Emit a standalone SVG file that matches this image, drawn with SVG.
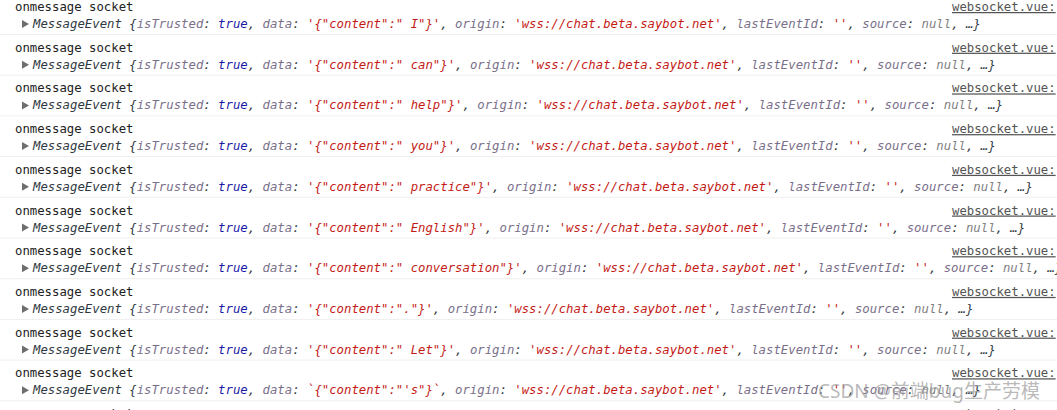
<svg xmlns="http://www.w3.org/2000/svg" width="1057" height="410" viewBox="0 0 1057 410">
<style>
text{font-family:"DejaVu Sans Mono","Liberation Mono",monospace;font-size:12.3px;fill:#222}
.d{font-style:italic;fill:#303942}
.k{fill:#7a6f8a}.b{fill:#1a1aa6}.s{fill:#c41a16}.n{fill:#808080}
.l{fill:#545454;text-decoration:underline}
.sep{stroke:#efefef;stroke-width:1}
.tri{fill:#6e6e6e}
</style>
<rect width="1057" height="410" fill="#fff"/>
<defs><path id="t" class="tri" d="M0,-4 L7,0 L0,4Z"/></defs>
<g id="rows">
<g id="r0"><text x="15" y="11">onmessage socket</text><text class="l" x="952" y="11">websocket.vue:</text><use href="#t" x="22" y="24"/><text class="d" x="33" y="28">MessageEvent {<tspan class="k">isTrusted</tspan>: <tspan class="b">true</tspan>, <tspan class="k">data</tspan>: <tspan class="s">'{"content":" I"}'</tspan>, <tspan class="k">origin</tspan>: <tspan class="s">'wss://chat.beta.saybot.net'</tspan>, <tspan class="k">lastEventId</tspan>: <tspan class="s">''</tspan>, <tspan class="k">source</tspan>: <tspan class="n">null</tspan>, …}</text><line class="sep" x1="0" y1="34.5" x2="1057" y2="34.5"/></g>
<g id="r1" transform="translate(0,40.7)"><text x="15" y="11">onmessage socket</text><text class="l" x="952" y="11">websocket.vue:</text><use href="#t" x="22" y="24"/><text class="d" x="33" y="28">MessageEvent {<tspan class="k">isTrusted</tspan>: <tspan class="b">true</tspan>, <tspan class="k">data</tspan>: <tspan class="s">'{"content":" can"}'</tspan>, <tspan class="k">origin</tspan>: <tspan class="s">'wss://chat.beta.saybot.net'</tspan>, <tspan class="k">lastEventId</tspan>: <tspan class="s">''</tspan>, <tspan class="k">source</tspan>: <tspan class="n">null</tspan>, …}</text><line class="sep" x1="0" y1="34.5" x2="1057" y2="34.5"/></g>
<g id="r2" transform="translate(0,81.4)"><text x="15" y="11">onmessage socket</text><text class="l" x="952" y="11">websocket.vue:</text><use href="#t" x="22" y="24"/><text class="d" x="33" y="28">MessageEvent {<tspan class="k">isTrusted</tspan>: <tspan class="b">true</tspan>, <tspan class="k">data</tspan>: <tspan class="s">'{"content":" help"}'</tspan>, <tspan class="k">origin</tspan>: <tspan class="s">'wss://chat.beta.saybot.net'</tspan>, <tspan class="k">lastEventId</tspan>: <tspan class="s">''</tspan>, <tspan class="k">source</tspan>: <tspan class="n">null</tspan>, …}</text><line class="sep" x1="0" y1="34.5" x2="1057" y2="34.5"/></g>
<g id="r3" transform="translate(0,122.1)"><text x="15" y="11">onmessage socket</text><text class="l" x="952" y="11">websocket.vue:</text><use href="#t" x="22" y="24"/><text class="d" x="33" y="28">MessageEvent {<tspan class="k">isTrusted</tspan>: <tspan class="b">true</tspan>, <tspan class="k">data</tspan>: <tspan class="s">'{"content":" you"}'</tspan>, <tspan class="k">origin</tspan>: <tspan class="s">'wss://chat.beta.saybot.net'</tspan>, <tspan class="k">lastEventId</tspan>: <tspan class="s">''</tspan>, <tspan class="k">source</tspan>: <tspan class="n">null</tspan>, …}</text><line class="sep" x1="0" y1="34.5" x2="1057" y2="34.5"/></g>
<g id="r4" transform="translate(0,162.8)"><text x="15" y="11">onmessage socket</text><text class="l" x="952" y="11">websocket.vue:</text><use href="#t" x="22" y="24"/><text class="d" x="33" y="28">MessageEvent {<tspan class="k">isTrusted</tspan>: <tspan class="b">true</tspan>, <tspan class="k">data</tspan>: <tspan class="s">'{"content":" practice"}'</tspan>, <tspan class="k">origin</tspan>: <tspan class="s">'wss://chat.beta.saybot.net'</tspan>, <tspan class="k">lastEventId</tspan>: <tspan class="s">''</tspan>, <tspan class="k">source</tspan>: <tspan class="n">null</tspan>, …}</text><line class="sep" x1="0" y1="34.5" x2="1057" y2="34.5"/></g>
<g id="r5" transform="translate(0,203.5)"><text x="15" y="11">onmessage socket</text><text class="l" x="952" y="11">websocket.vue:</text><use href="#t" x="22" y="24"/><text class="d" x="33" y="28">MessageEvent {<tspan class="k">isTrusted</tspan>: <tspan class="b">true</tspan>, <tspan class="k">data</tspan>: <tspan class="s">'{"content":" English"}'</tspan>, <tspan class="k">origin</tspan>: <tspan class="s">'wss://chat.beta.saybot.net'</tspan>, <tspan class="k">lastEventId</tspan>: <tspan class="s">''</tspan>, <tspan class="k">source</tspan>: <tspan class="n">null</tspan>, …}</text><line class="sep" x1="0" y1="34.5" x2="1057" y2="34.5"/></g>
<g id="r6" transform="translate(0,244.2)"><text x="15" y="11">onmessage socket</text><text class="l" x="952" y="11">websocket.vue:</text><use href="#t" x="22" y="24"/><text class="d" x="33" y="28">MessageEvent {<tspan class="k">isTrusted</tspan>: <tspan class="b">true</tspan>, <tspan class="k">data</tspan>: <tspan class="s">'{"content":" conversation"}'</tspan>, <tspan class="k">origin</tspan>: <tspan class="s">'wss://chat.beta.saybot.net'</tspan>, <tspan class="k">lastEventId</tspan>: <tspan class="s">''</tspan>, <tspan class="k">source</tspan>: <tspan class="n">null</tspan>, …}</text><line class="sep" x1="0" y1="34.5" x2="1057" y2="34.5"/></g>
<g id="r7" transform="translate(0,284.9)"><text x="15" y="11">onmessage socket</text><text class="l" x="952" y="11">websocket.vue:</text><use href="#t" x="22" y="24"/><text class="d" x="33" y="28">MessageEvent {<tspan class="k">isTrusted</tspan>: <tspan class="b">true</tspan>, <tspan class="k">data</tspan>: <tspan class="s">'{"content":"."}'</tspan>, <tspan class="k">origin</tspan>: <tspan class="s">'wss://chat.beta.saybot.net'</tspan>, <tspan class="k">lastEventId</tspan>: <tspan class="s">''</tspan>, <tspan class="k">source</tspan>: <tspan class="n">null</tspan>, …}</text><line class="sep" x1="0" y1="34.5" x2="1057" y2="34.5"/></g>
<g id="r8" transform="translate(0,325.6)"><text x="15" y="11">onmessage socket</text><text class="l" x="952" y="11">websocket.vue:</text><use href="#t" x="22" y="24"/><text class="d" x="33" y="28">MessageEvent {<tspan class="k">isTrusted</tspan>: <tspan class="b">true</tspan>, <tspan class="k">data</tspan>: <tspan class="s">'{"content":" Let"}'</tspan>, <tspan class="k">origin</tspan>: <tspan class="s">'wss://chat.beta.saybot.net'</tspan>, <tspan class="k">lastEventId</tspan>: <tspan class="s">''</tspan>, <tspan class="k">source</tspan>: <tspan class="n">null</tspan>, …}</text><line class="sep" x1="0" y1="34.5" x2="1057" y2="34.5"/></g>
<g id="r9" transform="translate(0,366.3)"><text x="15" y="11">onmessage socket</text><text class="l" x="952" y="11">websocket.vue:</text><use href="#t" x="22" y="24"/><text class="d" x="33" y="28">MessageEvent {<tspan class="k">isTrusted</tspan>: <tspan class="b">true</tspan>, <tspan class="k">data</tspan>: <tspan class="s">`{"content":"'s"}`</tspan>, <tspan class="k">origin</tspan>: <tspan class="s">'wss://chat.beta.saybot.net'</tspan>, <tspan class="k">lastEventId</tspan>: <tspan class="s">''</tspan>, <tspan class="k">source</tspan>: <tspan class="n">null</tspan>, …}</text><line class="sep" x1="0" y1="34.5" x2="1057" y2="34.5"/></g>
<g id="r10" transform="translate(0,407)"><text x="15" y="11">onmessage socket</text><text class="l" x="952" y="11">websocket.vue:</text></g>
</g>
<text x="818" y="398" style="font-family:'Noto Sans','Noto Sans CJK SC',sans-serif;font-size:19px;fill:#9a9a9a;fill-opacity:0.7">CSDN @前端bug生产劳模</text>
</svg>
